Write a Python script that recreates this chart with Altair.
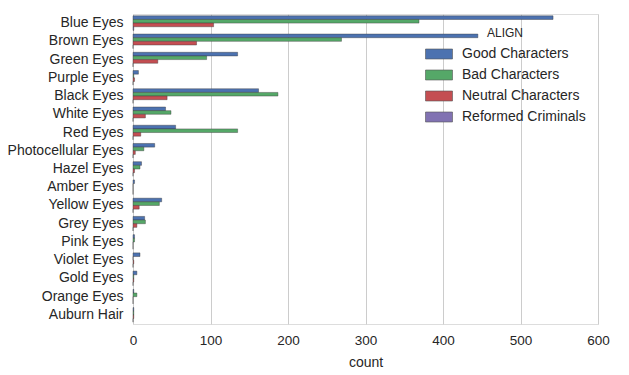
import altair as alt
import pandas as pd

eyes = ["Blue Eyes", "Brown Eyes", "Green Eyes", "Purple Eyes", "Black Eyes", "White Eyes",
        "Red Eyes", "Photocellular Eyes", "Hazel Eyes", "Amber Eyes", "Yellow Eyes", "Grey Eyes",
        "Pink Eyes", "Violet Eyes", "Gold Eyes", "Orange Eyes", "Auburn Hair"]
aligns = ["Good Characters", "Bad Characters", "Neutral Characters", "Reformed Criminals"]
good = [542, 445, 135, 7, 162, 42, 55, 28, 11, 2, 37, 15, 2, 9, 5, 1, 1]
bad = [369, 269, 95, 1, 187, 49, 135, 14, 9, 0, 34, 16, 2, 0, 1, 5, 1]
neutral = [104, 82, 32, 2, 44, 16, 10, 3, 2, 0, 8, 5, 0, 1, 1, 0, 1]
reformed = [1, 0, 0, 0, 0, 0, 0, 0, 0, 0, 0, 0, 0, 0, 0, 0, 0]
colors = ["#4C72B0", "#55A868", "#C44E52", "#8172B2"]

rows = []
for a, vals in zip(aligns, [good, bad, neutral, reformed]):
    for e, v in zip(eyes, vals):
        rows.append({"EYE": e, "ALIGN": a, "count": v})
df = pd.DataFrame(rows)

FONT = "Liberation Sans"
TXT = "#262626"

chart = alt.Chart(df).mark_bar(
    stroke="#3a3a3a", strokeWidth=0.6, strokeOpacity=0.7
).encode(
    y=alt.Y("EYE:N", sort=eyes, title=None,
            scale=alt.Scale(paddingInner=0, paddingOuter=0),
            axis=alt.Axis(ticks=False, domain=False, labelPadding=10, labelFontSize=14,
                          labelFont=FONT, labelColor=TXT, grid=False)),
    yOffset=alt.YOffset("ALIGN:N", sort=aligns,
                        scale=alt.Scale(paddingInner=0, paddingOuter=0.5)),
    x=alt.X("count:Q", title="count",
            scale=alt.Scale(domain=[0, 600], nice=False),
            axis=alt.Axis(values=[0, 100, 200, 300, 400, 500, 600], ticks=False, domain=False,
                          labelFlush=False,
                          labelPadding=9, labelFontSize=13.5, labelFont=FONT, labelColor=TXT,
                          titleFont=FONT, titleFontSize=14, titleFontWeight="normal",
                          titleColor=TXT, titlePadding=9,
                          gridColor="#CCCCCC", gridWidth=1)),
    color=alt.Color("ALIGN:N", sort=aligns, title="ALIGN",
                    scale=alt.Scale(domain=aligns, range=colors),
                    legend=alt.Legend(orient="none", legendX=292, legendY=14,
                                      titleFont=FONT, titleFontSize=12, titleFontWeight="normal",
                                      titleColor=TXT, titleAnchor="middle", titlePadding=0,
                                      labelFont=FONT, labelFontSize=14, labelColor=TXT,
                                      symbolType="M-1,-0.37H1V0.37H-1Z", symbolSize=729,
                                      symbolStrokeColor="#555555", symbolStrokeWidth=0.6,
                                      symbolOpacity=1, labelOffset=9,
                                      rowPadding=0)),
).properties(
    width=465, height=310,
    autosize=alt.AutoSizeParams(type="none"),
    padding={"left": 125, "top": 6, "right": 22, "bottom": 50},
).configure_view(
    stroke="#CCCCCC", strokeWidth=1
).configure(background="white")

chart.save("out.html", embed_options={"renderer": "svg", "actions": False})
